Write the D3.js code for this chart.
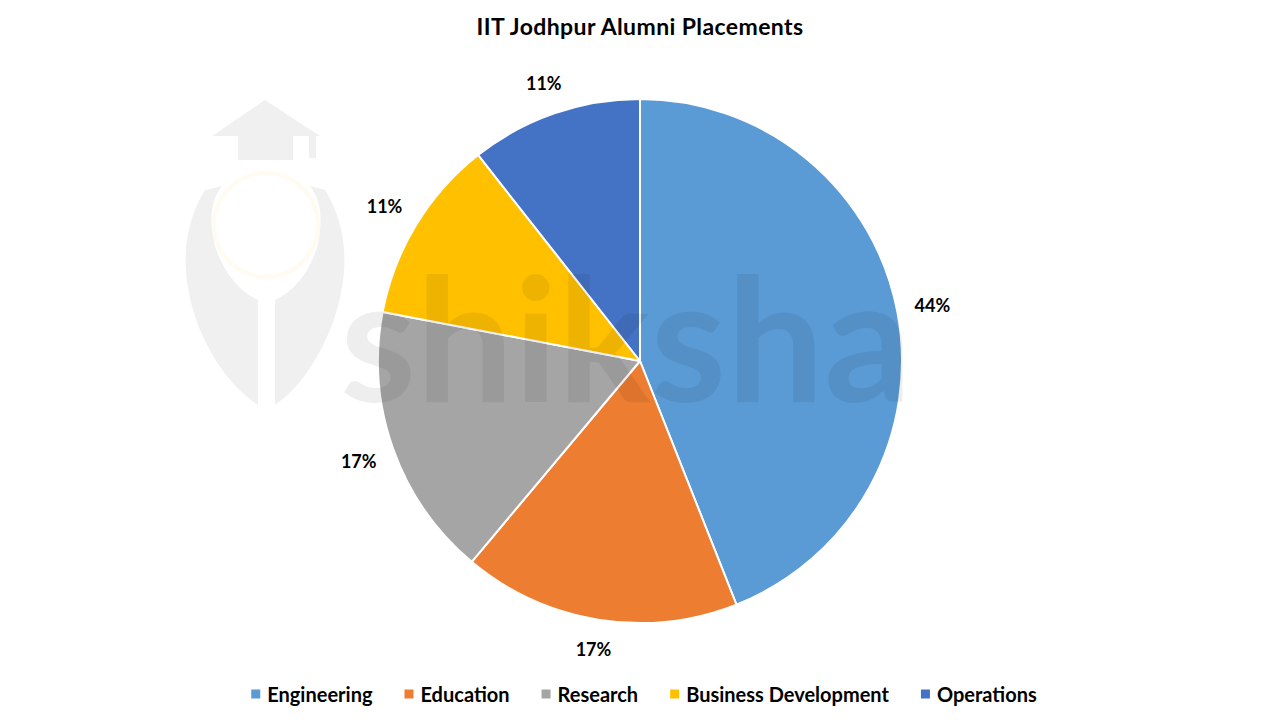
<!DOCTYPE html>
<html>
<head>
<meta charset="utf-8">
<script src="https://cdn.jsdelivr.net/npm/d3@7"></script>
<style>
  html, body { margin: 0; padding: 0; background: #fff; }
  svg { display: block; font-family: Lato, "Open Sans", sans-serif; }
</style>
</head>
<body>
<svg id="chart" width="1280" height="720"></svg>
<script>
const title = "IIT Jodhpur Alumni Placements";
const categories = ["Engineering", "Education", "Research", "Business Development", "Operations"];
const values = [44.0, 17.1, 16.9, 11.4, 10.6];
const colors = ["#5B9BD5", "#ED7D31", "#A5A5A5", "#FFC000", "#4472C4"];

const W = 1280, H = 720;
const cx = 640, cy = 361, R = 262;
const svg = d3.select("#chart");

svg.append("rect").attr("width", W).attr("height", H).attr("fill", "#fff");

// watermark logo (decorative)
const wm = svg.append("g").attr("fill", "#000").attr("fill-opacity", 0.06);
wm.append("path").attr("d", "M212,136 L265,100 L320,136 Z");
wm.append("rect").attr("x", 238).attr("y", 136).attr("width", 55).attr("height", 24);
wm.append("rect").attr("x", 309).attr("y", 136).attr("width", 7).attr("height", 22);
wm.append("path").attr("d",
  "M205,190 C180,230 180,280 200,330 C215,365 235,390 258,405 L258,300 C235,290 215,260 212,230 C210,210 214,196 222,186 Z");
wm.append("path").attr("d",
  "M325,190 C350,230 350,280 330,330 C315,365 297,390 275,405 L275,300 C298,290 318,260 320,230 C322,210 318,196 310,186 Z");
svg.append("circle").attr("cx", 266).attr("cy", 225).attr("r", 52)
  .attr("fill", "none").attr("stroke", "#FFC000").attr("stroke-opacity", 0.06).attr("stroke-width", 4);

// pie
const pie = d3.pie().sort(null).value(d => d.value).startAngle(0).endAngle(2 * Math.PI);
const data = categories.map((c, i) => ({ cat: c, value: values[i], color: colors[i] }));
const arcs = pie(data);
const arc = d3.arc().innerRadius(0).outerRadius(R);
const total = d3.sum(values);

const g = svg.append("g").attr("transform", `translate(${cx},${cy})`);
g.selectAll("path.slice").data(arcs).join("path")
  .attr("class", "slice")
  .attr("d", arc)
  .attr("fill", d => d.data.color)
  .attr("stroke", "#fff")
  .attr("stroke-width", 2)
  .attr("stroke-linejoin", "round");

// watermark text over pie
svg.append("text")
  .attr("x", 340).attr("y", 402)
  .attr("font-family", "Lato, sans-serif")
  .attr("font-weight", "bold")
  .attr("font-size", 172)
  .attr("textLength", 572)
  .attr("lengthAdjust", "spacingAndGlyphs")
  .attr("fill", "#000").attr("fill-opacity", 0.065)
  .text("shiksha");

// labels
const lblG = svg.append("g");
arcs.forEach(d => {
  const mid = (d.startAngle + d.endAngle) / 2;
  const sx = Math.sin(mid), sy = -Math.cos(mid);
  const t = lblG.append("text")
    .attr("font-weight", "bold")
    .attr("font-size", 18)
    .attr("fill", "#000")
    .attr("text-anchor", "middle")
    .attr("dominant-baseline", "central")
    .text(Math.round(d.data.value / total * 100) + "%");
  const bb = t.node().getBBox();
  const ext = Math.abs(sx) * bb.width / 2 + Math.abs(sy) * bb.height / 2;
  const rr = R + 16 + ext;
  t.attr("x", cx + sx * rr).attr("y", cy + sy * rr);
});

// title
svg.append("text")
  .attr("x", 640).attr("y", 26)
  .attr("text-anchor", "middle")
  .attr("dominant-baseline", "central")
  .attr("font-weight", "bold")
  .attr("font-size", 23)
  .attr("letter-spacing", 0.4)
  .attr("fill", "#000")
  .text(title);

// legend
const leg = svg.append("g");
const items = [];
let xpos = 0;
const sq = 9, gapT = 7, gapI = 32;
data.forEach((d, i) => {
  const it = leg.append("g");
  it.append("rect").attr("x", 0).attr("y", -sq / 2).attr("width", sq).attr("height", sq).attr("fill", d.color);
  const t = it.append("text").attr("x", sq + gapT).attr("y", 0)
    .attr("dominant-baseline", "central")
    .attr("font-weight", "bold").attr("font-size", 20).attr("fill", "#000")
    .text(d.cat);
  const w = sq + gapT + t.node().getComputedTextLength();
  items.push({ it, x: xpos });
  xpos += w + gapI;
});
const totalW = xpos - gapI;
const startX = 644 - totalW / 2;
items.forEach(o => o.it.attr("transform", `translate(${startX + o.x},694)`));
</script>
</body>
</html>
